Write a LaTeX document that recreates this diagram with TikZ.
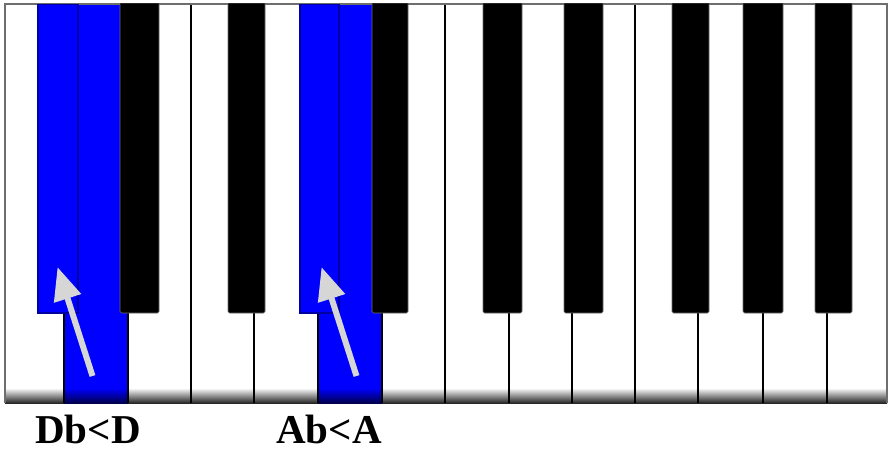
\documentclass[tikz,border=0pt]{standalone}
\usepackage{fontspec}
\setmainfont{Liberation Serif}
\usetikzlibrary{arrows.meta}
\definecolor{arrowgray}{HTML}{D6D6D6}
\definecolor{edgegray}{HTML}{6E6E6E}
\definecolor{darkblue}{HTML}{0000A0}
\tikzset{
  divider/.style={line width=2.5pt, black},
  blackkey/.style={fill=black, draw=edgegray, line width=0.6pt, rounded corners=1.5pt},
  bluekey/.style={fill=blue, draw=darkblue, line width=1.4pt},
  hint/.style={draw=arrowgray, line width=6pt, -{Triangle[length=33pt,width=27pt]}},
  keylabel/.style={font=\bfseries\fontsize{41}{41}\selectfont, anchor=base, inner sep=0pt}
}
\begin{document}
\begin{tikzpicture}[x=1pt,y=-1pt]
\useasboundingbox (0,0) rectangle (894,451);
\fill[white] (0,0) rectangle (894,451);
% white keys area
\fill[white] (5,4) rectangle (887,403);
% highlighted white keys D and A
\fill[blue] (64,4) rectangle (128,403);
\fill[blue] (318,4) rectangle (382,403);
% bottom shading of white keys
\shade[top color=white, bottom color=black!85] (5,388) rectangle (64,403);
\shade[top color=blue, bottom color=blue!30!black] (64,388) rectangle (128,403);
\shade[top color=white, bottom color=black!85] (128,388) rectangle (318,403);
\shade[top color=blue, bottom color=blue!30!black] (318,388) rectangle (382,403);
\shade[top color=white, bottom color=black!85] (382,388) rectangle (887,403);
% dividers
\foreach \x in {64,128,191,254,318,382,445,509,572,635,698,763,827}
  \draw[divider] (\x,4) -- (\x,403);
% outer border
\draw[edgegray, line width=1.2pt] (5,403) -- (5,4) -- (887,4) -- (887,403);
% black keys
\foreach \a/\b in {120/159, 228/265, 372/408, 483/522, 564/603, 672/709, 743/783, 815/852}
  \draw[blackkey] (\a,3.4) -- (\a,313) -- (\b,313) -- (\b,3.4);
% highlighted black keys Db and Ab
\draw[bluekey] (38,4.5) rectangle (78,313);
\draw[bluekey] (300,4.5) rectangle (339,313);
\fill[blue] (39.5,7) rectangle (76.5,311.5);
\fill[blue] (301.5,7) rectangle (337.5,311.5);
% arrows
\coordinate (t1) at (92.5,376);
\coordinate (h1) at (57.5,267);
\coordinate (t2) at (356.5,376);
\coordinate (h2) at (321.5,267);
\draw[hint] (t1) -- (h1);
\draw[hint] (t2) -- (h2);
% labels
\node[keylabel] (l1) at (88,443) {Db<D};
\node[keylabel] (l2) at (329,443) {Ab<A};
\end{tikzpicture}
\end{document}
